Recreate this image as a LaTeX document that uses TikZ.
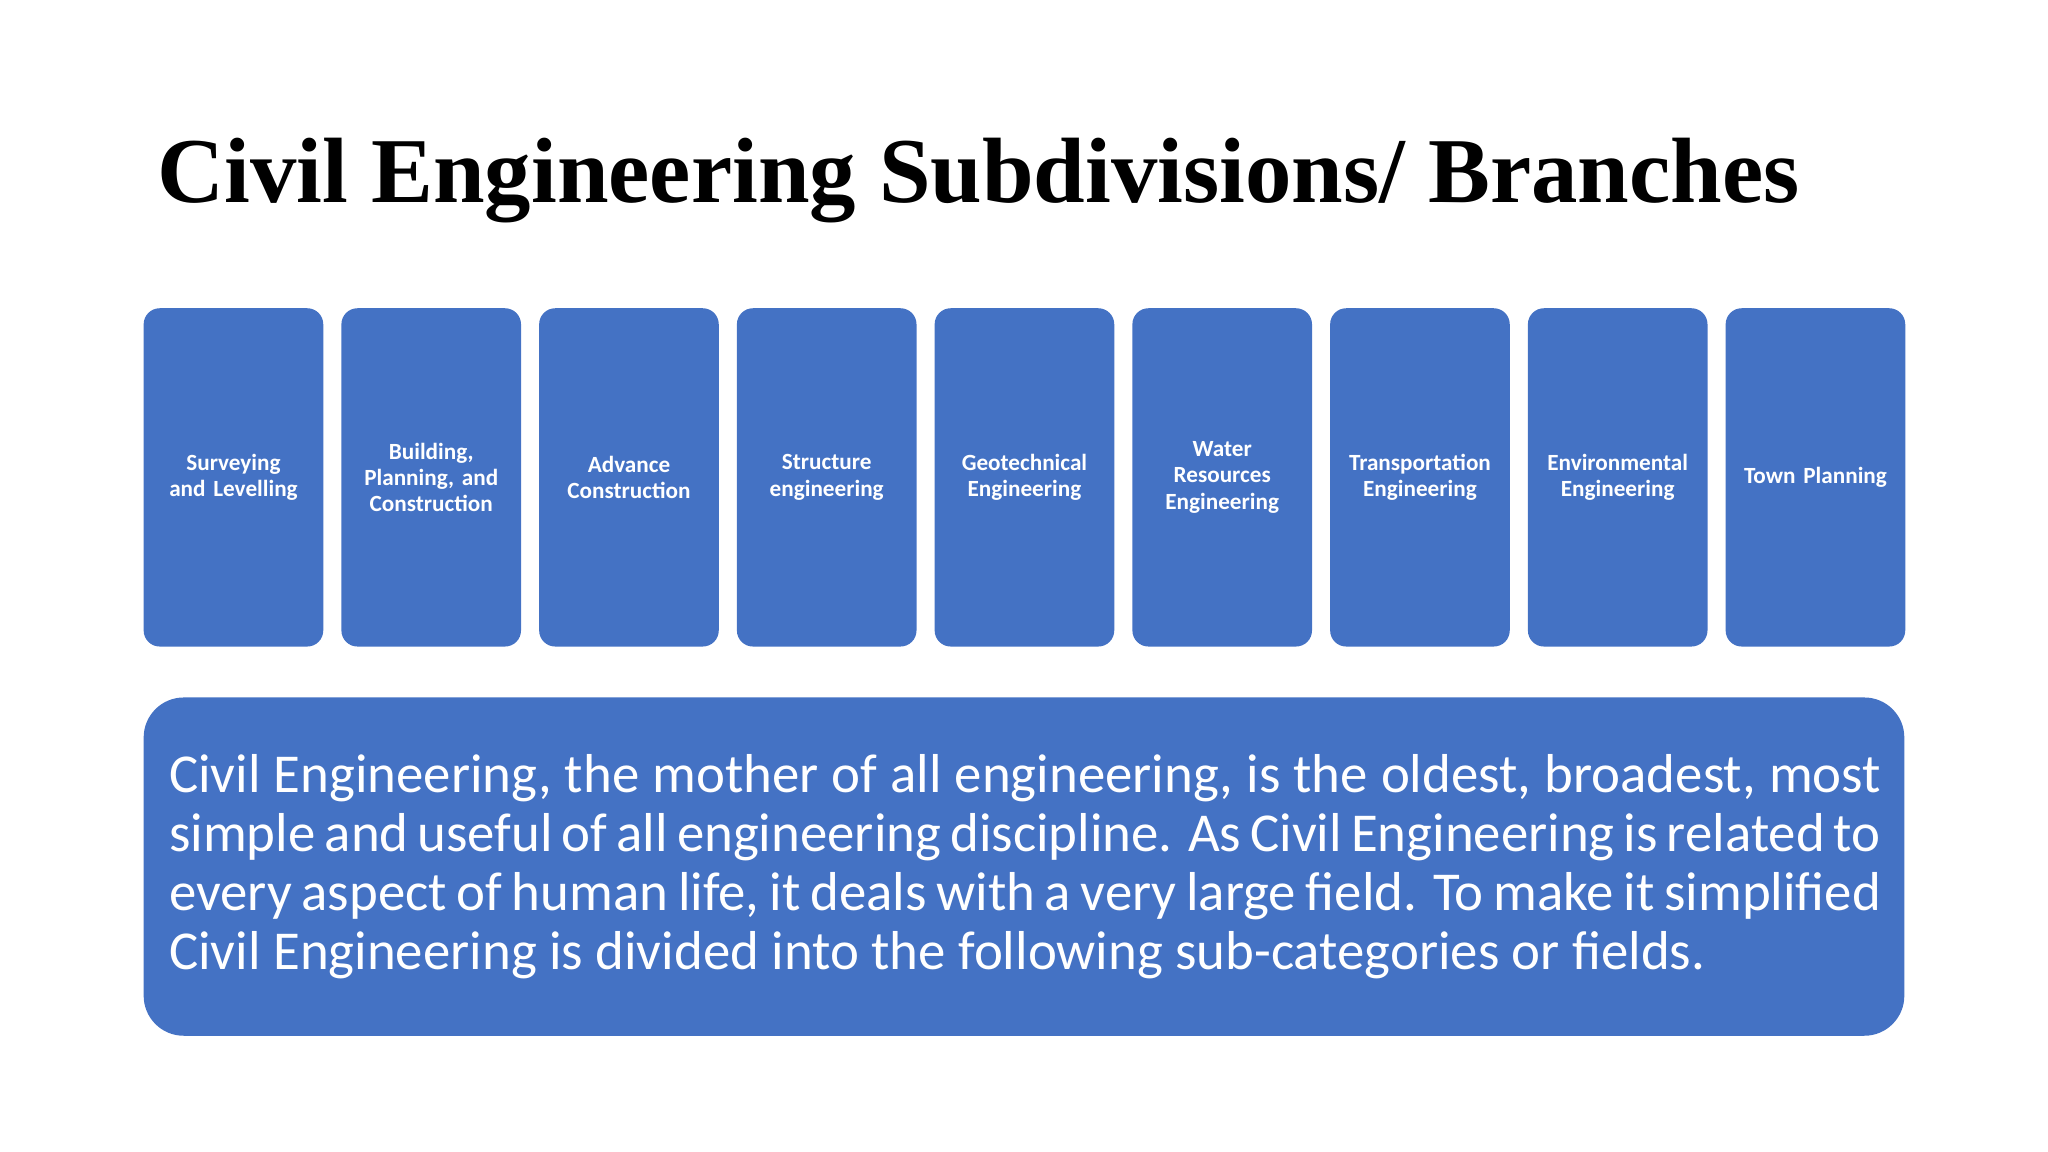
\documentclass[tikz,border=0pt]{standalone}
\usepackage{fontspec}
\setmainfont{Carlito}
\newfontfamily\titlefont{Liberation Serif}
\definecolor{boxblue}{HTML}{4472C4}
\begin{document}
\begin{tikzpicture}[x=0.013061cm,y=-0.013061cm,
  br/.style={fill=boxblue,draw=none,rounded corners=0.16cm},
  bt/.style={text=white,font=\fontsize{6.6}{7.5}\selectfont\bfseries,align=center,text width=1.5cm}]
\useasboundingbox (0,0) rectangle (1568,882);
\node[anchor=base west,font=\titlefont\fontsize{26.4}{30}\selectfont\bfseries,inner sep=0] (title) at (120,155) {Civil Engineering Subdivisions/ Branches};
\foreach \t [count=\i from 0] in {Surveying and Levelling,{Building, Planning, and Construction},Advance Construction,Structure engineering,Geotechnical Engineering,Water Resources Engineering,Transportation Engineering,Environmental Engineering,Town Planning}{
  \fill[br] (110+151.4*\i,236) rectangle ++(137.5,259);
  \node[bt] (b\i) at (178.75+151.4*\i,365.5) {\t};
}
\fill[boxblue,rounded corners=0.4cm] (110,534) rectangle (1458,793);
\node[text=white,font=\fontsize{15.6}{16.8}\selectfont,align=justify,text width=17.12cm,inner sep=0,anchor=north west] (body) at (129,577) {Civil Engineering, the mother of all engineering, is the oldest, broadest, most simple and useful of all engineering discipline. As Civil Engineering is related to every aspect of human life, it deals with a very large field. To make it simplified Civil Engineering is divided into the following sub-categories or fields.};
\end{tikzpicture}
\end{document}
